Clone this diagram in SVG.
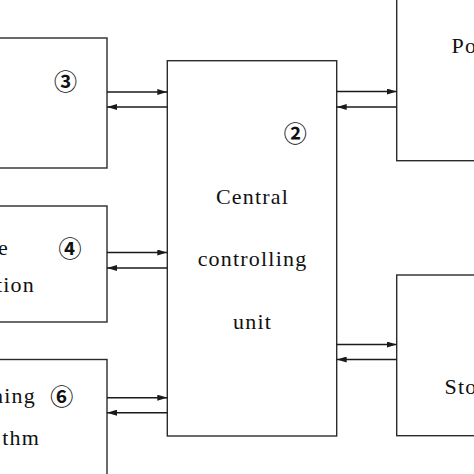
<svg xmlns="http://www.w3.org/2000/svg" width="474" height="474" viewBox="0 0 474 474">
<style>
.box{fill:#fff;stroke:#2b2b2b;stroke-width:1.4}
.t{font-family:"Liberation Serif","DejaVu Serif",serif;font-size:22px;fill:#111;letter-spacing:1.2px}
.n{font-family:"Noto Sans CJK SC","DejaVu Sans",sans-serif;font-size:23px;font-weight:bold;fill:#111;text-anchor:middle;dominant-baseline:central}
.c{stroke:#1a1a1a;stroke-width:1.4;fill:none;marker-end:url(#ah)}
</style>
<defs>
<marker id="ah" viewBox="0 0 10 6" refX="10" refY="3" markerWidth="10" markerHeight="6" markerUnits="userSpaceOnUse" orient="auto">
<path d="M0,0 L10,3 L0,6 Z" fill="#1a1a1a"/>
</marker>
</defs>
<rect width="474" height="474" fill="#fff"/>
<g id="node3">
<rect class="box" x="-5" y="38" width="112" height="130"/>
<text class="n" x="65.5" y="79.5">③</text>
</g>
<g id="node4">
<rect class="box" x="-5" y="206" width="112" height="116"/>
<text class="t" x="9" y="255" text-anchor="end">e</text>
<text class="t" x="35" y="291.5" text-anchor="end">tion</text>
<text class="n" x="70" y="246.5">④</text>
</g>
<g id="node6">
<rect class="box" x="-5" y="359.5" width="112" height="130"/>
<text class="t" x="36" y="403" text-anchor="end">hing</text>
<text class="t" x="40" y="445" text-anchor="end">thm</text>
<text class="n" x="61.7" y="394.5">⑥</text>
</g>
<g id="node2">
<rect class="box" x="167.3" y="60.7" width="169.4" height="375.3"/>
<text class="n" x="295.3" y="132">②</text>
<text class="t" x="252.5" y="204" text-anchor="middle">Central</text>
<text class="t" x="252.5" y="266" text-anchor="middle">controlling</text>
<text class="t" x="252.5" y="329" text-anchor="middle">unit</text>
</g>
<g id="nodePo">
<rect class="box" x="396.7" y="-5" width="90" height="165.7"/>
<text class="t" x="451.5" y="53.3">Po</text>
</g>
<g id="nodeSto">
<rect class="box" x="396.7" y="275" width="90" height="160.7"/>
<text class="t" x="444.5" y="394.3">Sto</text>
</g>
<g id="connectors">
<line class="c" x1="107" y1="92" x2="167.3" y2="92"/>
<line class="c" x1="167.3" y1="107" x2="107" y2="107"/>
<line class="c" x1="107" y1="252.5" x2="167.3" y2="252.5"/>
<line class="c" x1="167.3" y1="268" x2="107" y2="268"/>
<line class="c" x1="107" y1="397.7" x2="167.3" y2="397.7"/>
<line class="c" x1="167.3" y1="412.7" x2="107" y2="412.7"/>
<line class="c" x1="336.7" y1="91.5" x2="396.7" y2="91.5"/>
<line class="c" x1="396.7" y1="107" x2="336.7" y2="107"/>
<line class="c" x1="336.7" y1="344.5" x2="396.7" y2="344.5"/>
<line class="c" x1="396.7" y1="359.5" x2="336.7" y2="359.5"/>
</g>
</svg>
